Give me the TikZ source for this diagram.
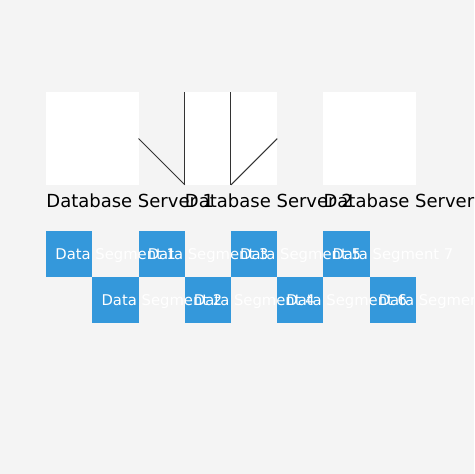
\documentclass[tikz,border=0pt]{standalone}
\usepackage{fontspec}
\setmainfont{DejaVu Sans}
\usepackage{xcolor}
\usepackage{tikz}

\definecolor{bgcol}{HTML}{F4F4F4}
\definecolor{segblue}{HTML}{3498DB}
\definecolor{linecol}{HTML}{333333}

\begin{document}
\begin{tikzpicture}[x=46.2pt,y=-46.2pt,
    server/.style={rectangle,fill=white,minimum width=92.4pt,minimum height=92.4pt,inner sep=0,outer sep=0,anchor=north west},
    segbox/.style={rectangle,fill=segblue,minimum width=46.2pt,minimum height=46.2pt,inner sep=0,outer sep=0,anchor=north west},
    segtext/.style={anchor=west,inner sep=0,text=white,font=\fontsize{14.8}{18}\selectfont},
    srvtext/.style={anchor=base west,inner sep=0,font=\fontsize{18}{22}\selectfont},
    link/.style={draw=linecol,line width=1pt}]
    % Background
    \fill[bgcol] (0,0) rectangle (10.26,10.26);
    \useasboundingbox (0,0) rectangle (10.26,10.26);

    % Servers
    \node[server] (srv1) at (1,2) {};
    \node[server] (srv2) at (4,2) {};
    \node[server] (srv3) at (7,2) {};
    \node[srvtext] (lbl1) at (1,4.5) {Database Server 1};
    \node[srvtext] (lbl2) at (4,4.5) {Database Server 2};
    \node[srvtext] (lbl3) at (7,4.5) {Database Server 3};

    % Links
    \draw[link] (srv1.east) -- (srv2.south west);
    \draw[link] (srv2.north west) -- (srv2.south west);
    \draw[link] (srv2.north) -- (srv2.south);
    \draw[link] (srv2.south) -- (srv2.east);

    % Segment blocks
    \foreach \i in {1,...,8} {
        \pgfmathsetmacro{\row}{isodd(\i) ? 5 : 6}
        \node[segbox] (seg\i) at (\i,\row) {};
    }
    \foreach \i in {1,...,8} {
        \node[segtext] (segt\i) at ([xshift=9pt,yshift=-1pt]seg\i.west) {Data Segment \i};
    }
\end{tikzpicture}
\end{document}
